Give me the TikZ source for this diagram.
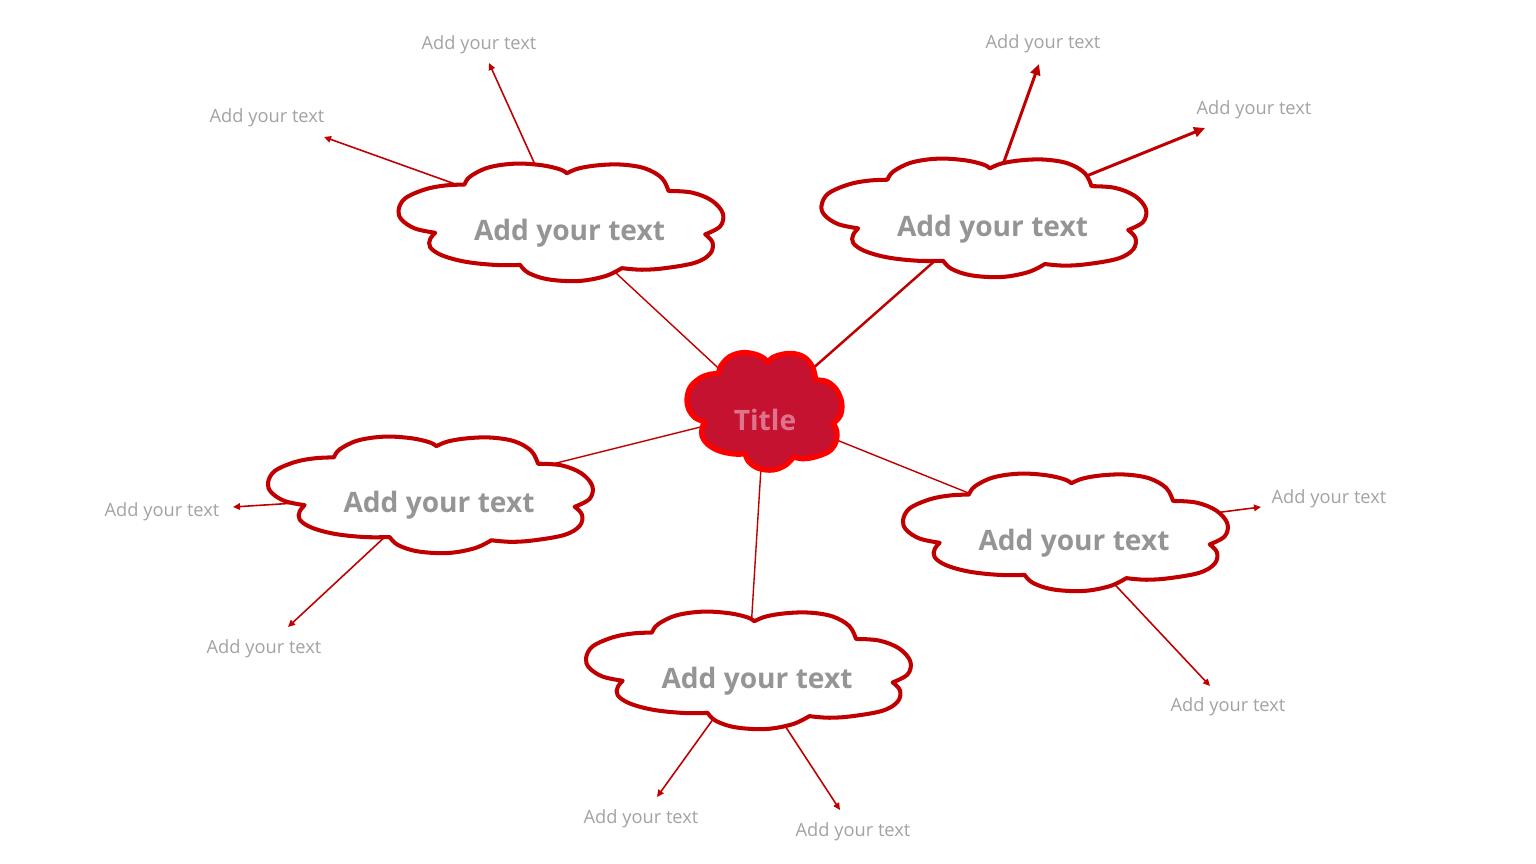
\documentclass[tikz,border=0pt]{standalone}
\usepackage{fontspec}
\setmainfont{Open Sans}
\usetikzlibrary{arrows.meta}

\definecolor{cloudred}{HTML}{C00000}
\definecolor{titlered}{HTML}{FF0000}
\definecolor{titlefill}{HTML}{C41230}
\definecolor{titletext}{HTML}{E0738C}
\definecolor{cloudgray}{HTML}{959595}
\definecolor{lblgray}{HTML}{A3A3A3}

% seven-lobe cloud, centre #2, width #3, height #4
\def\pptcloud[#1](#2)(#3:#4){%
  \draw[#1, shift={(#2)}, xscale=#3/9.75, yscale=#4/3.67] (-3.775, -0.335)
    -- plot[smooth, tension=0.6] coordinates {(-3.775, -0.335) (-4.375, -0.205) (-4.775, 0.065) (-4.875, 0.365)
         (-4.675, 0.735) (-4.075, 1.015) (-3.475, 1.135) (-2.895, 1.165)}
    -- plot[smooth, tension=0.6] coordinates {(-2.895, 1.165) (-2.725, 1.415) (-2.175, 1.695) (-1.375, 1.815)
         (-0.575, 1.765) (-0.025, 1.635) (0.175, 1.515)}
    -- plot[smooth, tension=0.6] coordinates {(0.175, 1.515) (0.525, 1.665) (1.125, 1.765) (1.825, 1.785)
         (2.525, 1.665) (3.025, 1.365) (3.225, 0.965)}
    -- plot[smooth, tension=0.6] coordinates {(3.225, 0.965) (3.925, 0.915) (4.525, 0.665) (4.855, 0.265)
         (4.775, -0.135) (4.325, -0.385)}
    -- plot[smooth, tension=0.6] coordinates {(4.325, -0.385) (4.545, -0.635) (4.475, -0.985) (4.025, -1.265)
         (3.125, -1.435) (2.425, -1.485) (1.825, -1.435)}
    -- plot[smooth, tension=0.6] coordinates {(1.825, -1.435) (1.325, -1.685) (0.525, -1.835) (-0.375, -1.785)
         (-0.975, -1.585) (-1.225, -1.335)}
    -- plot[smooth, tension=0.6] coordinates {(-1.225, -1.335) (-1.975, -1.335) (-2.875, -1.235) (-3.575, -1.035)
         (-3.925, -0.785) (-3.925, -0.535) (-3.775, -0.335)}
    -- cycle;}

\tikzset{
  cloudline/.style={draw=cloudred, fill=white, line width=1.15pt, line join=round},
  ctrline/.style={draw=titlered, fill=titlefill, line width=1.5pt, line join=round},
  spoke/.style={draw=cloudred, line width=0.4pt},
  thinarr/.style={draw=cloudred, line width=0.45pt, -{Triangle[length=0.7mm, width=0.65mm]}},
  thickarr/.style={draw=cloudred, line width=0.85pt, -{Triangle[length=1.1mm, width=1mm]}},
  cloudtxt/.style={text=cloudgray, font=\bfseries\fontsize{8}{9}\selectfont},
  lbl/.style={text=lblgray, font=\fontsize{5.2}{6}\selectfont},
}

\begin{document}
\begin{tikzpicture}
	%%%%% START %%%%%
	
	\fill[white] (0, 0) rectangle (15.36, -8.64);
	\useasboundingbox (0, 0) rectangle (15.36, -8.64);
	
	\coordinate (ctr) at (7.645, -4.11);
	\coordinate (tl) at (5.61, -2.22);
	\coordinate (tr) at (9.84, -2.175);
	\coordinate (lf) at (4.305, -4.945);
	\coordinate (rt) at (10.655, -5.32);
	\coordinate (bt) at (7.485, -6.70);
	
	\node[lbl] (tl-a) at (4.79, -0.444) {Add your text};
	\node[lbl] (tl-b) at (2.67, -1.18) {Add your text};
	\node[lbl] (tr-a) at (10.43, -0.44) {Add your text};
	\node[lbl] (tr-b) at (12.54, -1.10) {Add your text};
	\node[lbl] (lf-a) at (1.62, -5.12) {Add your text};
	\node[lbl] (lf-b) at (2.64, -6.49) {Add your text};
	\node[lbl] (bt-a) at (6.41, -8.19) {Add your text};
	\node[lbl] (bt-b) at (8.53, -8.32) {Add your text};
	\node[lbl] (rt-a) at (13.29, -4.99) {Add your text};
	\node[lbl] (rt-b) at (12.28, -7.07) {Add your text};
	
	\coordinate (tl-a-tip) at (4.89, -0.63);
	\coordinate (tl-b-tip) at (3.24, -1.37);
	\coordinate (tr-a-tip) at (10.39, -0.64);
	\coordinate (tr-b-tip) at (12.05, -1.28);
	\coordinate (lf-a-tip) at (2.33, -5.07);
	\coordinate (lf-b-tip) at (2.88, -6.27);
	\coordinate (bt-a-tip) at (6.57, -7.97);
	\coordinate (bt-b-tip) at (8.40, -8.10);
	\coordinate (rt-a-tip) at (12.61, -5.07);
	\coordinate (rt-b-tip) at (12.10, -6.86);
	
	\draw[spoke] (ctr) -- (tl);
	\draw[spoke, line width=0.7pt] (ctr) -- (tr);
	\draw[spoke] (ctr) -- (lf);
	\draw[spoke] (ctr) -- (rt);
	\draw[spoke] (ctr) -- (bt);
	
	\draw[thinarr] (tl) -- (tl-a-tip);
	\draw[thinarr] (tl) -- (tl-b-tip);
	\draw[thickarr] (tr) -- (tr-a-tip);
	\draw[thickarr] (tr) -- (tr-b-tip);
	\draw[thinarr] (lf) -- (lf-a-tip);
	\draw[thinarr] (lf) -- (lf-b-tip);
	\draw[thinarr] (bt) -- (bt-a-tip);
	\draw[thinarr] (bt) -- (bt-b-tip);
	\draw[thinarr] (rt) -- (rt-a-tip);
	\draw[thinarr] (rt) -- (rt-b-tip);
	
	\pptcloud[cloudline](tl)(3.25:1.18);
	\pptcloud[cloudline](tr)(3.25:1.19);
	\pptcloud[cloudline](lf)(3.25:1.17);
	\pptcloud[cloudline](rt)(3.25:1.18);
	\pptcloud[cloudline](bt)(3.25:1.18);
	\pptcloud[ctrline](ctr)(1.55:1.18);
	
	\node[cloudtxt] (tl-t) at (5.695, -2.335) {Add your text};
	\node[cloudtxt] (tr-t) at (9.925, -2.29) {Add your text};
	\node[cloudtxt] (lf-t) at (4.39, -5.055) {Add your text};
	\node[cloudtxt] (rt-t) at (10.74, -5.43) {Add your text};
	\node[cloudtxt] (bt-t) at (7.57, -6.81) {Add your text};
	\node[cloudtxt, text=titletext] (ctr-t) at (7.65, -4.20) {Title};
	
	%%%%% END %%%%%
\end{tikzpicture}
\end{document}
